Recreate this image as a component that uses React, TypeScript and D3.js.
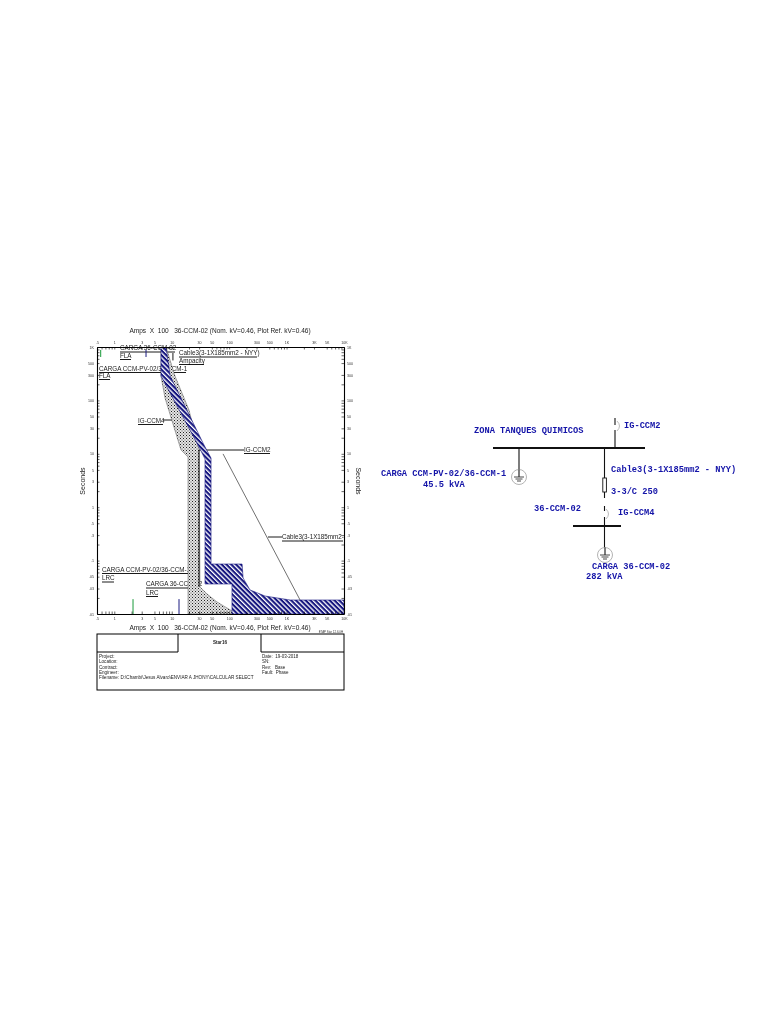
import React, { useEffect, useRef } from 'react';
import * as d3 from 'd3';

type Pt = [number, number];

// amps x 100, seconds
const xTicks = [0.5, 0.6, 0.7, 0.8, 0.9, 1, 2, 3, 5, 6, 7, 8, 9, 10, 20, 30, 50, 60, 70, 80, 90, 100, 200, 300, 500, 600, 700, 800, 900, 1000, 2000, 3000, 5000, 6000, 7000, 8000, 9000, 10000];
const xLabels = new Map<number, string>([[0.5, '.5'], [1, '1'], [3, '3'], [5, '5'], [10, '10'], [30, '30'], [50, '50'], [100, '100'], [300, '300'], [500, '500'], [1000, '1K'], [3000, '3K'], [5000, '5K'], [10000, '10K']]);
const yTicks = [0.01, 0.02, 0.03, 0.05, 0.06, 0.07, 0.08, 0.09, 0.1, 0.2, 0.3, 0.5, 0.6, 0.7, 0.8, 0.9, 1, 2, 3, 5, 6, 7, 8, 9, 10, 20, 30, 50, 60, 70, 80, 90, 100, 200, 300, 500, 600, 700, 800, 900, 1000];
const yLabels = new Map<number, string>([[0.01, '.01'], [0.03, '.03'], [0.05, '.05'], [0.1, '.1'], [0.3, '.3'], [0.5, '.5'], [1, '1'], [3, '3'], [5, '5'], [10, '10'], [30, '30'], [50, '50'], [100, '100'], [300, '300'], [500, '500'], [1000, '1K']]);

// IG-CCM4 band
const igCcm4Band: Pt[] = [[6.5, 1000], [6.5, 286], [7.64, 111], [14.5, 11.8], [19.2, 8.7], [19.2, 0.01], [112, 0.01], [112, 0.0114], [61.5, 0.0168], [41.2, 0.0237], [31.1, 0.0321], [29.9, 11.8], [20, 66], [11.4, 286], [7.96, 1000]];
// IG-CCM2 band
const igCcm2Band: Pt[] = [[6.51, 1000], [6.51, 286], [28.7, 14.6], [38, 8], [38, 0.0365], [112, 0.0365], [112, 0.01], [10000, 0.01], [10000, 0.0183], [1151, 0.0183], [422, 0.0217], [231, 0.0282], [175, 0.0472], [168, 0.0863], [48.4, 0.0863], [48.4, 8.3], [36.5, 14.6], [9.4, 286], [7.96, 1000]];
const igCcm4Edge: Pt[] = [[29.9, 11.8], [29.9, 0.0321]];
const cableCurve: Pt[] = [[78.3, 9.95], [1718, 0.0183]];
const flaGreen: Pt[] = [[0.58, 880], [0.58, 650]];
const flaBlue: Pt[] = [[3.57, 880], [3.57, 650]];
const lrcGreen: Pt[] = [[2.12, 0.019], [2.12, 0.01]];
const lrcBlue: Pt[] = [[13.4, 0.019], [13.4, 0.01]];
const ampacity: Pt[] = [[10.5, 772], [10.5, 560]];

const chartLabels = ['CARGA 36-CCM-02', 'FLA', 'Cable3(3-1X185mm2 - NYY)', 'Ampacity', 'CARGA CCM-PV-02/36-CCM-1', 'FLA', 'IG-CCM4', 'IG-CCM2', 'Cable3(3-1X185mm2-', 'CARGA CCM-PV-02/36-CCM-1', 'LRC', 'CARGA 36-CCM-02', 'LRC'];
const labelPos = [[120, 350, 175], [120, 357.5, 131], [179, 355, 257], [179, 362.5, 204], [99, 370.5, 186], [99, 377.5, 110], [138, 422.5, 163], [244, 451.5, 270], [282, 539, 343], [102, 571.5, 188], [102, 580, 114], [146, 586, 190], [146, 594.5, 158]];
const leaders = [[163, 420, 173, 420], [199, 450, 244, 450], [268, 537, 282, 537]];

const titleText = 'Amps  X  100   36-CCM-02 (Nom. kV=0.46, Plot Ref. kV=0.46)';
const blockLeft = ['Project:', 'Location:', 'Contract:', 'Engineer:', 'Filename: D:\\Chambi\\Jesus Alvaro\\ENVIAR A JHONY\\CALCULAR SELECT'];
const blockRight = ['Date:  19-03-2018', 'SN:', 'Rev:   Base', 'Fault:  Phase'];

const oneLineText: [string, number, number][] = [
  ['ZONA TANQUES QUIMICOS', 474, 433],
  ['IG-CCM2', 624, 428],
  ['Cable3(3-1X185mm2 - NYY)', 611, 472],
  ['3-3/C 250', 611, 494],
  ['36-CCM-02', 534, 511],
  ['IG-CCM4', 618, 515],
  ['CARGA CCM-PV-02/36-CCM-1', 381, 476],
  ['45.5 kVA', 423, 487],
  ['CARGA 36-CCM-02', 592, 569],
  ['282 kVA', 586, 579],
];

const SANS = '"Liberation Sans", Arial, sans-serif';

export default function App() {
  const svgRef = useRef<SVGSVGElement>(null);

  useEffect(() => {
    const svg = d3.select(svgRef.current);
    svg.selectAll('*').remove();

    const x = d3.scaleLog().domain([0.5, 10000]).range([97, 344]);
    const y = d3.scaleLog().domain([0.01, 1000]).range([614, 347]);
    const line = d3.line<Pt>().x(d => x(d[0])).y(d => y(d[1]));

    const defs = svg.append('defs');
    const hatch = defs.append('pattern').attr('id', 'hatch').attr('patternUnits', 'userSpaceOnUse')
      .attr('width', 3.4).attr('height', 4).attr('patternTransform', 'rotate(-45)');
    hatch.append('rect').attr('width', 3.4).attr('height', 4).attr('fill', '#15157f');
    hatch.append('rect').attr('width', 1.3).attr('height', 4).attr('fill', '#ffffff');
    const dots = defs.append('pattern').attr('id', 'dots').attr('patternUnits', 'userSpaceOnUse')
      .attr('width', 3).attr('height', 3);
    dots.append('rect').attr('width', 3).attr('height', 3).attr('fill', '#e4e4e4');
    dots.append('rect').attr('width', 1).attr('height', 1).attr('fill', '#222222');
    dots.append('rect').attr('x', 1.5).attr('y', 1.5).attr('width', 1).attr('height', 1).attr('fill', '#555555');

    // labels go under the curves, the hatch hides part of them
    chartLabels.forEach((t, i) => {
      const [lx, ly, end] = labelPos[i];
      svg.append('text').attr('x', lx).attr('y', ly).attr('font-family', SANS).attr('font-size', 6.3).attr('fill', '#222').text(t);
      svg.append('line').attr('x1', lx).attr('x2', end).attr('y1', ly + 2).attr('y2', ly + 2).attr('stroke', '#000').attr('stroke-width', 0.9);
    });
    leaders.forEach(d => {
      svg.append('line').attr('x1', d[0]).attr('y1', d[1]).attr('x2', d[2]).attr('y2', d[3]).attr('stroke', '#000').attr('stroke-width', 0.9);
    });

    svg.append('path').attr('d', line(igCcm4Band)).attr('fill', 'url(#dots)').attr('stroke', '#333').attr('stroke-width', 0.4);
    svg.append('path').attr('d', line(igCcm4Edge)).attr('fill', 'none').attr('stroke', '#000').attr('stroke-width', 0.9);
    svg.append('path').attr('d', line(igCcm2Band)).attr('fill', 'url(#hatch)').attr('stroke', '#15157f').attr('stroke-width', 0.6);
    svg.append('path').attr('d', line(cableCurve)).attr('fill', 'none').attr('stroke', '#333').attr('stroke-width', 0.7);
    svg.append('path').attr('d', line(ampacity)).attr('fill', 'none').attr('stroke', '#000').attr('stroke-width', 0.9);
    [flaGreen, lrcGreen].forEach(d => svg.append('path').attr('d', line(d)).attr('stroke', '#1a9a3a').attr('stroke-width', 1));
    [flaBlue, lrcBlue].forEach(d => svg.append('path').attr('d', line(d)).attr('stroke', '#1a1a80').attr('stroke-width', 1));

    // axes
    const styleAxis = (g: any) => {
      g.selectAll('text').attr('font-family', SANS).attr('font-size', 3.6).attr('fill', '#333');
      g.selectAll('line').attr('stroke', '#000').attr('stroke-width', 0.6);
      g.select('.domain').attr('stroke', '#000').attr('stroke-width', 1.1);
    };
    const fx = (d: any) => xLabels.get(+d) ?? '';
    const fy = (d: any) => yLabels.get(+d) ?? '';
    svg.append('g').attr('transform', 'translate(0,347)')
      .call(d3.axisTop(x).tickValues(xTicks).tickFormat(fx).tickSizeInner(-2.5).tickSizeOuter(0).tickPadding(3)).call(styleAxis);
    svg.append('g').attr('transform', 'translate(0,614)')
      .call(d3.axisBottom(x).tickValues(xTicks).tickFormat(fx).tickSizeInner(-2.5).tickSizeOuter(0).tickPadding(3)).call(styleAxis);
    svg.append('g').attr('transform', 'translate(97,0)')
      .call(d3.axisLeft(y).tickValues(yTicks).tickFormat(fy).tickSizeInner(-2.5).tickSizeOuter(0).tickPadding(3)).call(styleAxis);
    svg.append('g').attr('transform', 'translate(344,0)')
      .call(d3.axisRight(y).tickValues(yTicks).tickFormat(fy).tickSizeInner(-2.5).tickSizeOuter(0).tickPadding(3)).call(styleAxis);

    // titles
    [332.5, 629.5].forEach(ty => {
      svg.append('text').attr('x', 220).attr('y', ty).attr('text-anchor', 'middle').attr('font-family', SANS)
        .attr('font-size', 6.55).attr('fill', '#222').style('white-space', 'pre').text(titleText);
    });
    svg.append('text').attr('transform', 'translate(84.5,481) rotate(-90)').attr('text-anchor', 'middle').attr('font-family', SANS).attr('font-size', 7).attr('fill', '#222').text('Seconds');
    svg.append('text').attr('transform', 'translate(356,481) rotate(90)').attr('text-anchor', 'middle').attr('font-family', SANS).attr('font-size', 7).attr('fill', '#222').text('Seconds');

    // title block
    svg.append('rect').attr('x', 97).attr('y', 634).attr('width', 247).attr('height', 56).attr('fill', 'none').attr('stroke', '#000').attr('stroke-width', 1);
    [[178, 634, 178, 652], [97, 652, 178, 652], [261, 634, 261, 652], [261, 652, 344, 652]].forEach(d => {
      svg.append('line').attr('x1', d[0]).attr('y1', d[1]).attr('x2', d[2]).attr('y2', d[3]).attr('stroke', '#000').attr('stroke-width', 1);
    });
    svg.append('text').attr('x', 220).attr('y', 644).attr('text-anchor', 'middle').attr('font-family', SANS).attr('font-weight', 'bold').attr('font-size', 4.6).attr('fill', '#222').text('Star16');
    svg.append('text').attr('x', 343).attr('y', 632.5).attr('text-anchor', 'end').attr('font-family', SANS).attr('font-size', 2.9).attr('fill', '#333').text('ETAP Star 12.6.0H');
    blockLeft.forEach((t, i) => {
      svg.append('text').attr('x', 99).attr('y', [657.5, 663, 669, 674, 679][i]).attr('font-family', SANS).attr('font-size', 4.6).attr('fill', '#222').text(t);
    });
    blockRight.forEach((t, i) => {
      svg.append('text').attr('x', 262).attr('y', [657.5, 663, 669, 673.5][i]).attr('font-family', SANS).attr('font-size', 4.5).attr('fill', '#222').style('white-space', 'pre').text(t);
    });

    // one line diagram
    const seg = (a: number, b: number, c: number, e: number, w = 1.1, col = '#111') => {
      svg.append('line').attr('x1', a).attr('y1', b).attr('x2', c).attr('y2', e).attr('stroke', col).attr('stroke-width', w);
    };
    seg(493, 448, 645, 448, 2);
    seg(573, 526, 621, 526, 2);
    seg(519, 448, 519, 478);
    seg(615, 418, 615, 425);
    seg(615, 430, 615, 448);
    seg(604.5, 448, 604.5, 478);
    svg.append('rect').attr('x', 602.8).attr('y', 478).attr('width', 3.6).attr('height', 14).attr('fill', '#fff').attr('stroke', '#111').attr('stroke-width', 0.9);
    seg(604.5, 492, 604.5, 498);
    seg(604.5, 506, 604.5, 511);
    seg(604.5, 517, 604.5, 553);
    const arc = (ax: number, top: number, bot: number) => {
      svg.append('path').attr('d', `M${ax},${top} Q${ax + 5},${(top + bot) / 2} ${ax},${bot}`).attr('fill', 'none').attr('stroke', '#aaa').attr('stroke-width', 0.8);
    };
    arc(617, 421, 431);
    arc(606, 509, 519);
    [[519, 477], [605, 555]].forEach(([cx, cy]) => {
      svg.append('circle').attr('cx', cx).attr('cy', cy).attr('r', 7.5).attr('fill', '#fff').attr('stroke', '#aaa').attr('stroke-width', 0.9);
      seg(cx, cy - 7.5, cx, cy, 1.1);
      seg(cx - 5, cy, cx + 5, cy, 0.9, '#333');
      seg(cx - 3.5, cy + 2, cx + 3.5, cy + 2, 0.9, '#333');
      seg(cx - 2, cy + 4, cx + 2, cy + 4, 0.9, '#333');
    });
    oneLineText.forEach(([t, tx, ty]) => {
      svg.append('text').attr('x', tx).attr('y', ty).attr('font-family', '"Liberation Mono", monospace').attr('font-weight', 'bold')
        .attr('font-size', 8.7).attr('fill', '#1414a8').style('white-space', 'pre').text(t);
    });
  }, []);

  return <svg ref={svgRef} width={768} height={1024} style={{ position: 'absolute', left: 0, top: 0, willChange: 'transform' }} />;
}
